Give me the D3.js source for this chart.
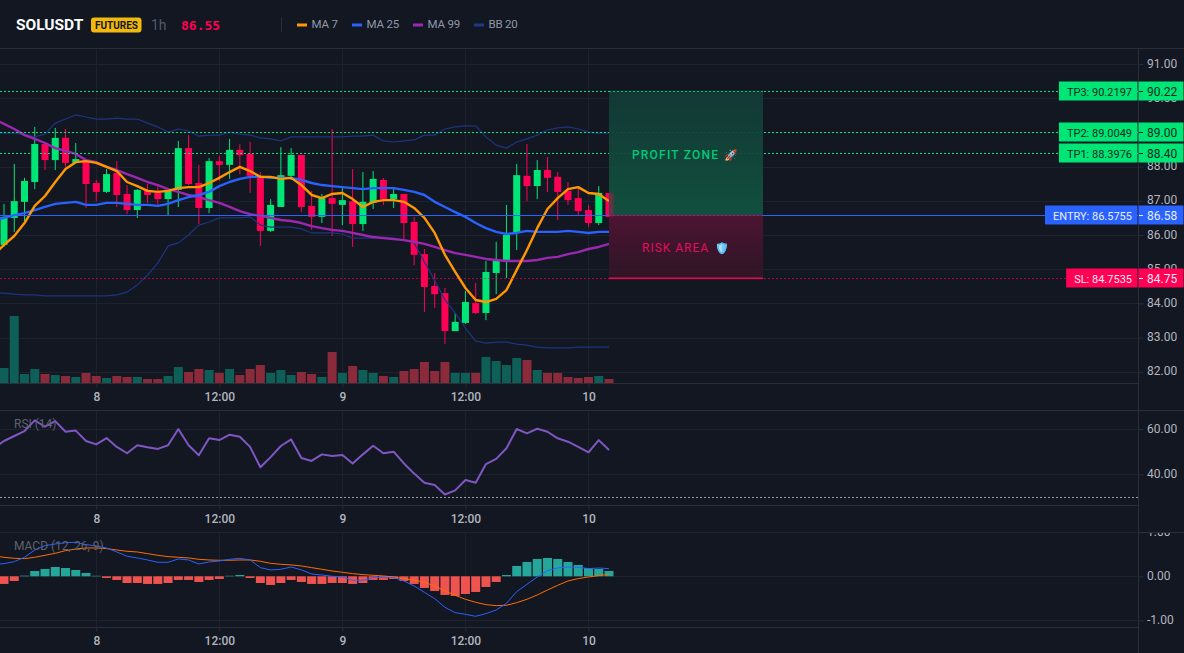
<!DOCTYPE html>
<html>
<head>
<meta charset="utf-8">
<script src="https://cdn.jsdelivr.net/npm/d3@7/dist/d3.min.js"></script>
<style>
	html, body { margin: 0; padding: 0; background: #131722; overflow: hidden; }
	svg { display: block; }
	text { font-family: Roboto, "Noto Sans", sans-serif; }
	.domain { display: none; }
</style>
</head>
<body>
<div id="chart-area"></div>
<script>
// Candles, hourly, one entry per bar
const opens = [85.71,86.50,86.97,87.55,88.66,88.19,88.84,88.11,88.19,87.52,87.26,87.81,87.20,86.73,87.32,87.23,87.05,87.32,88.54,87.52,86.79,88.16,88.05,88.49,88.37,87.73,86.12,86.82,87.73,88.34,86.85,86.53,87.08,86.88,86.99,86.32,86.94,87.61,87.05,87.20,86.38,85.44,84.51,84.30,83.19,83.43,84.01,83.72,84.89,85.27,86.06,87.73,87.43,87.90,87.70,87.29,87.08,86.73,86.35,87.23]
const highs = [86.91,88.08,87.67,89.16,88.66,89.13,89.10,88.69,88.22,87.61,87.93,88.16,87.46,87.34,87.49,87.43,87.32,88.75,88.92,88.05,88.25,88.31,88.81,88.66,88.72,87.84,87.05,88.57,88.54,88.34,87.29,87.20,89.10,87.37,87.93,87.84,87.87,87.67,87.40,87.20,86.53,85.59,84.89,84.45,83.72,84.36,84.60,85.24,85.80,86.88,88.08,88.66,88.19,88.28,87.84,87.55,87.40,86.88,87.43,87.23]
const lows = [85.65,86.09,86.41,87.34,87.90,87.90,87.99,88.11,86.79,86.99,87.23,86.82,86.61,86.50,86.94,86.88,86.58,86.82,87.46,86.32,86.64,87.58,87.64,87.78,87.23,85.68,86.09,86.82,87.61,86.67,86.15,86.35,85.97,86.29,85.65,86.12,86.76,86.88,86.79,85.85,85.12,83.75,83.87,82.81,83.19,83.40,83.69,83.51,84.27,84.74,85.56,86.99,87.05,87.26,86.44,86.88,86.58,86.23,86.29,86.53]
const closes = [86.53,86.99,87.58,88.66,88.19,88.84,88.11,88.22,87.49,87.26,87.78,87.17,86.73,87.32,87.17,87.05,87.32,88.54,87.49,86.79,88.16,88.05,88.49,88.34,87.73,86.12,86.88,87.75,88.34,86.82,86.53,87.08,86.91,87.02,86.32,86.97,87.64,87.05,87.20,86.35,85.42,84.48,84.27,83.19,83.46,84.04,83.72,84.92,85.24,86.00,87.75,87.43,87.90,87.67,87.26,87.02,86.70,86.35,87.23,86.53]
const volumes = [150,670,90,140,90,80,70,60,100,70,50,70,60,60,40,40,70,160,110,140,130,100,140,80,140,180,100,130,80,110,90,60,310,100,170,130,100,70,60,120,140,210,120,210,100,100,100,260,220,180,250,230,130,100,100,60,50,60,70,40]

// Indicator lines start one hour before the first candle
const ma7 = [85.42,85.71,85.97,86.35,86.85,87.14,87.55,87.93,88.13,88.16,88.11,87.99,87.87,87.55,87.43,87.29,87.26,87.29,87.37,87.40,87.40,87.52,87.67,87.84,87.99,87.87,87.70,87.70,87.64,87.67,87.46,87.17,87.08,87.20,87.23,87.05,86.82,86.97,87.02,87.02,86.97,86.79,86.50,86.06,85.42,84.92,84.45,84.10,84.04,84.13,84.39,84.98,85.56,86.20,86.76,87.08,87.34,87.40,87.23,87.20,86.99]
const ma25 = [86.41,86.50,86.58,86.64,86.73,86.82,86.91,86.94,86.97,86.88,86.88,86.94,86.94,86.91,86.88,86.88,86.85,86.91,87.02,87.11,87.17,87.26,87.43,87.55,87.64,87.70,87.70,87.67,87.67,87.67,87.61,87.52,87.46,87.43,87.40,87.37,87.34,87.37,87.37,87.37,87.32,87.26,87.17,86.97,86.82,86.67,86.53,86.35,86.20,86.09,86.03,86.06,86.12,86.09,86.09,86.09,86.12,86.09,86.06,86.09,86.09]
const ma99 = [89.39,89.25,89.10,88.92,88.81,88.69,88.54,88.46,88.37,88.19,88.13,87.99,87.90,87.78,87.67,87.55,87.46,87.34,87.26,87.17,87.11,87.02,86.94,86.82,86.70,86.61,86.56,86.50,86.44,86.41,86.35,86.26,86.20,86.15,86.12,86.06,86.00,85.94,85.91,85.88,85.85,85.80,85.74,85.65,85.56,85.47,85.42,85.36,85.30,85.27,85.24,85.24,85.24,85.27,85.33,85.36,85.44,85.50,85.59,85.65,85.74]
const bbUpper = [88.98,88.98,88.98,88.95,88.87,88.95,89.27,89.39,89.51,89.45,89.39,89.39,89.42,89.39,89.39,89.27,89.16,89.01,89.10,89.04,88.89,88.92,88.92,89.01,88.95,88.92,88.84,88.81,88.75,88.87,88.87,88.87,88.87,88.87,88.87,88.89,88.89,88.92,88.75,88.72,88.75,88.78,88.92,88.92,89.10,89.16,89.19,89.19,88.87,88.63,88.54,88.72,88.81,88.92,89.07,89.13,89.16,89.10,89.01,88.98,88.98]
const bbLower = [84.30,84.30,84.27,84.25,84.25,84.22,84.22,84.22,84.22,84.22,84.22,84.22,84.25,84.33,84.54,84.83,85.18,85.68,85.77,86.00,86.29,86.38,86.50,86.50,86.50,86.53,86.29,86.23,86.23,86.23,86.18,86.06,86.06,86.06,86.03,85.91,85.91,85.91,85.94,85.91,85.85,85.77,85.21,84.68,84.10,83.72,83.28,82.90,82.84,82.87,82.87,82.81,82.78,82.72,82.70,82.70,82.70,82.72,82.72,82.72,82.72]
const rsi = [51.5,54.7,56.9,59.1,63.8,61.0,63.5,58.8,59.3,54.7,53.2,56.0,52.1,49.3,52.8,51.9,51.2,52.8,60.0,52.8,48.4,55.9,55.1,57.5,56.6,52.1,43.1,47.6,52.5,55.4,47.2,45.9,48.8,48.1,48.5,44.8,48.8,52.6,49.3,50.0,44.8,40.3,36.3,35.3,31.1,32.9,37.5,36.3,44.5,46.8,51.5,60.0,58.1,60.1,58.8,55.9,54.4,52.1,49.7,55.1,50.7]
const macdLine = [.273,.288,.333,.432,.598,.697,.735,.765,.773,.720,.689,.644,.553,.455,.417,.371,.318,.318,.394,.371,.280,.326,.348,.386,.409,.371,.197,.144,.159,.212,.144,.053,.030,0,-.015,-.091,-.091,-.03,-.03,-.03,-.106,-.220,-.364,-.508,-.705,-.826,-.864,-.909,-.848,-.765,-.614,-.348,-.182,-.015,.129,.189,.212,.205,.174,.189,.174]
const macdSignal = [.462,.432,.409,.402,.432,.477,.523,.583,.621,.644,.644,.629,.598,.568,.553,.515,.477,.447,.432,.417,.386,.371,.364,.364,.371,.371,.341,.295,.273,.258,.235,.197,.159,.121,.091,.061,.038,.023,.008,-.015,-.053,-.083,-.136,-.220,-.333,-.432,-.523,-.591,-.644,-.667,-.659,-.598,-.523,-.424,-.311,-.205,-.106,-.053,-.015,.015,.045]
const macdHist = [-.174,-.106,.015,.121,.167,.212,.189,.144,.076,.012,-.038,-.083,-.152,-.152,-.174,-.174,-.152,-.083,-.083,-.129,-.083,-.061,.012,.03,-.038,-.152,-.197,-.152,-.083,-.129,-.174,-.174,-.152,-.152,-.174,-.152,-.083,-.083,-.061,-.106,-.174,-.265,-.333,-.424,-.447,-.402,-.356,-.242,-.129,.03,.235,.326,.394,.417,.394,.326,.258,.189,.167,.121]

// Axis ticks
const timeTicks = [9, 21, 33, 45, 57]
const timeLabels = ["8", "12:00", "9", "12:00", "10"]
const priceTicks = [91, 90, 89, 88, 87, 86, 85, 84, 83, 82]
const rsiTicks = [60, 40]
const macdTicks = [1, 0, -1]

// Trade levels
const levelNames = ["TP3", "TP2", "TP1", "ENTRY", "SL"]
const levelValues = [90.2197, 89.0049, 88.3976, 86.5755, 84.7535]
const levelColors = ["#00e676", "#00e676", "#00e676", "#2962ff", "#ff0055"]
const levelTextColors = ["#0b2a22", "#0b2a22", "#0b2a22", "#e8eefc", "#ffe9f0"]

// Legend
const legendNames = ["MA 7", "MA 25", "MA 99", "BB 20"]
const legendColors = ["#ff9800", "#2962ff", "#9c27b0", "#1e3a8a"]

const WIDTH = 1184
const HEIGHT = 653
const AXIS_X = 1138
const GRID = "#1e222d"
const BORDER = "#2a2e39"
const UP = "#00e676"
const DOWN = "#ff0055"

const svg = d3.select("#chart-area").append("svg")
	.attr("width", WIDTH)
	.attr("height", HEIGHT)

const defs = svg.append("defs")

// Panes
const x = d3.scaleLinear().domain([0, 59]).range([4, 609])
const yPrice = d3.scaleLinear().domain([82, 91]).range([371.8, 64])
const yVol = d3.scaleLinear().domain([0, 670]).range([383, 316])
const yRsi = d3.scaleLinear().domain([40, 60]).range([474.3, 429])
const yMacd = d3.scaleLinear().domain([-1, 0]).range([620.3, 576.3])

const panes = [
	{ top: 49, bottom: 383, y: yPrice, ticks: priceTicks },
	{ top: 411, bottom: 505, y: yRsi, ticks: rsiTicks },
	{ top: 533, bottom: 627, y: yMacd, ticks: macdTicks }
]

defs.append("clipPath").attr("id", "plot")
	.append("rect").attr("x", 0).attr("y", 49).attr("width", AXIS_X).attr("height", 334)
// the 1.00 MACD label gets cut by the top of its pane
defs.append("clipPath").attr("id", "axis-clip")
	.append("rect").attr("x", 0).attr("y", 533).attr("width", WIDTH).attr("height", 120)
defs.append("filter").attr("id", "blur").attr("x", "-100%").attr("width", "300%")
	.append("feGaussianBlur").attr("stdDeviation", 1.6)

// Header
svg.append("line")
	.attr("x1", 0).attr("x2", WIDTH).attr("y1", 48.5).attr("y2", 48.5)
	.attr("stroke", BORDER)

svg.append("text")
	.attr("x", 16).attr("y", 30)
	.attr("font-size", 15.5).attr("font-weight", 700).attr("fill", "#ffffff")
	.text("SOLUSDT")

svg.append("rect")
	.attr("x", 91).attr("y", 17.5).attr("width", 50.5).attr("height", 15).attr("rx", 3)
	.attr("fill", "#f0b90b")
svg.append("text")
	.attr("x", 116.5).attr("y", 28.7).attr("text-anchor", "middle")
	.attr("font-size", 10).attr("font-weight", 700).attr("fill", "#131722")
	.text("FUTURES")

svg.append("text")
	.attr("x", 151).attr("y", 30)
	.attr("font-size", 14).attr("fill", "#525a6a")
	.text("1h")

svg.append("text")
	.attr("x", 181).attr("y", 30)
	.style("font-family", "'DejaVu Sans Mono', monospace")
	.attr("font-size", 13).attr("font-weight", 700).attr("fill", DOWN)
	.text("86.55")

svg.append("line")
	.attr("x1", 281.5).attr("x2", 281.5).attr("y1", 18).attr("y2", 32)
	.attr("stroke", BORDER)

const legendX = [297, 352, 413, 474]
legendNames.forEach((name, i) => {
	svg.append("rect")
		.attr("x", legendX[i]).attr("y", 23.5).attr("width", 10).attr("height", 3)
		.attr("fill", legendColors[i])
	svg.append("text")
		.attr("x", legendX[i] + 14.5).attr("y", 28)
		.attr("font-size", 11.5).attr("letter-spacing", -0.2).attr("fill", "#8f98aa")
		.text(name)
})

// Grid, axes
panes.forEach(pane => {
	const grid = svg.append("g")
	grid.selectAll("line.h").data(pane.ticks).enter().append("line")
		.attr("x1", 0).attr("x2", AXIS_X)
		.attr("y1", d => Math.round(pane.y(d)) + 0.5).attr("y2", d => Math.round(pane.y(d)) + 0.5)
		.attr("stroke", GRID)
	grid.selectAll("line.v").data(timeTicks).enter().append("line")
		.attr("x1", d => Math.round(x(d)) + 0.5).attr("x2", d => Math.round(x(d)) + 0.5)
		.attr("y1", pane.top).attr("y2", pane.bottom)
		.attr("stroke", GRID)

	// pane bottom line + separator under the time axis
	grid.append("line")
		.attr("x1", 0).attr("x2", AXIS_X).attr("y1", pane.bottom + 0.5).attr("y2", pane.bottom + 0.5)
		.attr("stroke", BORDER)
	if (pane.bottom < 600) {
		grid.append("line")
			.attr("x1", 0).attr("x2", WIDTH).attr("y1", pane.bottom + 27.5).attr("y2", pane.bottom + 27.5)
			.attr("stroke", BORDER)
	}

	const timeAxis = d3.axisBottom(x)
		.tickValues(timeTicks)
		.tickFormat((d, i) => timeLabels[i])
		.tickSize(4)
		.tickPadding(5)
	const tg = svg.append("g")
		.attr("class", "x axis")
		.attr("transform", `translate(0, ${pane.bottom + 0.5})`)
		.call(timeAxis)
	tg.selectAll("line").attr("stroke", BORDER)
	tg.selectAll("text").attr("fill", "#b2b5be").attr("font-size", 12).attr("font-weight", 500)
		.style("font-family", "Roboto, sans-serif")

	const priceAxis = d3.axisRight(pane.y)
		.tickValues(pane.ticks)
		.tickFormat(d => d.toFixed(2))
		.tickSize(5)
		.tickPadding(3.5)
	const pg = svg.append("g")
		.attr("class", "y axis")
		.attr("clip-path", pane.bottom > 600 ? "url(#axis-clip)" : null)
		.append("g")
		.attr("transform", `translate(${AXIS_X + 0.5}, 0)`)
		.call(priceAxis)
	pg.selectAll("line").attr("stroke", BORDER)
	pg.selectAll("text").attr("fill", "#b2b5be").attr("font-size", 12).attr("dy", "0.26em")
		.style("font-family", "Roboto, sans-serif")
})

svg.append("line")
	.attr("x1", AXIS_X + 0.5).attr("x2", AXIS_X + 0.5).attr("y1", 49).attr("y2", HEIGHT)
	.attr("stroke", BORDER)

// Volume
const main = svg.append("g").attr("clip-path", "url(#plot)")
main.selectAll("rect.vol").data(volumes).enter().append("rect")
	.attr("class", "vol")
	.attr("x", (d, i) => x(i) - 4.5)
	.attr("width", 9)
	.attr("y", d => yVol(d))
	.attr("height", d => yVol(0) - yVol(d))
	.attr("fill", (d, i) => closes[i] >= opens[i] ? "#0e5f57" : "#8b2a3a")

// Candles
const candles = main.selectAll("g.candle").data(opens).enter().append("g")
	.attr("class", "candle")
	.attr("fill", (d, i) => closes[i] >= opens[i] ? UP : DOWN)
	.attr("stroke", (d, i) => closes[i] >= opens[i] ? UP : DOWN)

candles.append("line")
	.attr("x1", (d, i) => x(i)).attr("x2", (d, i) => x(i))
	.attr("y1", (d, i) => yPrice(highs[i])).attr("y2", (d, i) => yPrice(lows[i]))
	.attr("stroke-width", 1)

candles.append("rect")
	.attr("stroke", "none")
	.attr("x", (d, i) => x(i) - 3.5)
	.attr("width", 7)
	.attr("y", (d, i) => yPrice(Math.max(opens[i], closes[i])))
	.attr("height", (d, i) => Math.abs(yPrice(opens[i]) - yPrice(closes[i])))

// Indicator lines
const lineOn = (yScale) => d3.line().x((d, i) => x(i - 1)).y(d => yScale(d))

const drawLine = (parent, values, yScale, color, width) => {
	parent.append("path")
		.attr("d", lineOn(yScale)(values))
		.attr("fill", "none")
		.attr("stroke", color)
		.attr("stroke-width", width)
		.attr("stroke-linejoin", "round")
}

drawLine(main, bbUpper, yPrice, "#1c3580", 1.2)
drawLine(main, bbLower, yPrice, "#1c3580", 1.2)
drawLine(main, ma99, yPrice, "#9c27b0", 2.4)
drawLine(main, ma25, yPrice, "#2962ff", 2.4)
drawLine(main, ma7, yPrice, "#ff9800", 2.4)

// Trade level lines
levelValues.forEach((value, i) => {
	svg.append("line")
		.attr("x1", 0).attr("x2", AXIS_X)
		.attr("y1", Math.round(yPrice(value)) + 0.5).attr("y2", Math.round(yPrice(value)) + 0.5)
		.attr("stroke", levelColors[i])
		.attr("stroke-width", 1)
		.attr("stroke-opacity", levelNames[i] === "SL" ? 0.6 : 1)
		.attr("stroke-dasharray", levelNames[i] === "ENTRY" ? null : "2,2")
})

// Profit / risk boxes
const gradProfit = defs.append("linearGradient").attr("id", "profit").attr("x1", 0).attr("x2", 0).attr("y1", 0).attr("y2", 1)
gradProfit.append("stop").attr("offset", 0).attr("stop-color", "#123a36")
gradProfit.append("stop").attr("offset", 1).attr("stop-color", "#115440")
const gradRisk = defs.append("linearGradient").attr("id", "risk").attr("x1", 0).attr("x2", 0).attr("y1", 0).attr("y2", 1)
gradRisk.append("stop").attr("offset", 0).attr("stop-color", "#521433")
gradRisk.append("stop").attr("offset", 1).attr("stop-color", "#301526")

const BOX_LEFT = 609
const BOX_RIGHT = 763
const tp3 = yPrice(levelValues[0])
const entry = yPrice(levelValues[3])
const sl = yPrice(levelValues[4])

svg.append("rect")
	.attr("x", BOX_LEFT).attr("width", BOX_RIGHT - BOX_LEFT)
	.attr("y", tp3).attr("height", entry - tp3)
	.attr("fill", "url(#profit)").attr("opacity", 0.93)
svg.append("rect")
	.attr("x", BOX_LEFT).attr("width", BOX_RIGHT - BOX_LEFT)
	.attr("y", entry).attr("height", sl - entry)
	.attr("fill", "url(#risk)").attr("opacity", 0.93)

// last candle smears through the frosted box
svg.append("rect")
	.attr("x", BOX_LEFT + 1).attr("width", 3)
	.attr("y", yPrice(opens[59])).attr("height", yPrice(closes[59]) - yPrice(opens[59]))
	.attr("fill", DOWN).attr("opacity", 0.45).attr("filter", "url(#blur)")

svg.append("line")
	.attr("x1", BOX_LEFT).attr("x2", BOX_RIGHT).attr("y1", Math.round(tp3) + 0.5).attr("y2", Math.round(tp3) + 0.5)
	.attr("stroke", UP).attr("stroke-opacity", 0.8).attr("stroke-dasharray", "2,2")
svg.append("line")
	.attr("x1", BOX_LEFT).attr("x2", BOX_RIGHT).attr("y1", Math.round(entry) + 0.5).attr("y2", Math.round(entry) + 0.5)
	.attr("stroke", DOWN).attr("stroke-opacity", 0.7).attr("stroke-dasharray", "2,2")
svg.append("line")
	.attr("x1", BOX_LEFT).attr("x2", BOX_RIGHT).attr("y1", sl + 0.5).attr("y2", sl + 0.5)
	.attr("stroke", DOWN).attr("stroke-width", 1.5)

svg.append("text")
	.attr("x", 632).attr("y", 159)
	.attr("font-size", 12).attr("font-weight", 500).attr("letter-spacing", 1.2).attr("fill", "#00c878")
	.text("PROFIT ZONE")
svg.append("text")
	.attr("x", 724).attr("y", 159)
	.attr("font-size", 11)
	.text("🚀")
svg.append("text")
	.attr("x", 642).attr("y", 252)
	.attr("font-size", 12).attr("letter-spacing", 1).attr("fill", "#e0105a")
	.text("RISK AREA")
svg.append("text")
	.attr("x", 714.5).attr("y", 252)
	.attr("font-size", 11)
	.style("filter", "sepia(1) saturate(8) hue-rotate(170deg) brightness(0.95)")
	.text("🛡️")

// RSI
svg.append("line")
	.attr("x1", 0).attr("x2", AXIS_X).attr("y1", 497.5).attr("y2", 497.5)
	.attr("stroke", "#9aa0ab").attr("stroke-dasharray", "2,2")
drawLine(svg, rsi, yRsi, "#7e57c2", 2)
svg.append("text")
	.attr("x", 14).attr("y", 428).attr("font-size", 12).attr("fill", "#5d626e")
	.text("RSI (14)")

// MACD
svg.selectAll("rect.hist").data(macdHist).enter().append("rect")
	.attr("class", "hist")
	.attr("x", (d, i) => x(i) - 4.5)
	.attr("width", 9)
	.attr("y", d => Math.min(yMacd(d), yMacd(0)))
	.attr("height", d => Math.abs(yMacd(d) - yMacd(0)))
	.attr("fill", d => d >= 0 ? "#26a69a" : "#ef5350")
drawLine(svg, macdSignal, yMacd, "#ff6d00", 1)
drawLine(svg, macdLine, yMacd, "#2962ff", 1)
svg.append("text")
	.attr("x", 14).attr("y", 550).attr("font-size", 12).attr("fill", "#5d626e")
	.text("MACD (12, 26, 9)")

// Price tags on the right axis
levelValues.forEach((value, i) => {
	const cy = Math.round(yPrice(value))
	const tag = svg.append("g")
	const label = tag.append("text")
		.attr("x", 1132).attr("y", cy + 4.5).attr("text-anchor", "end")
		.attr("font-size", 11).attr("fill", levelTextColors[i])
		.text(`${levelNames[i]}: ${value.toFixed(4)}`)
	const w = label.node().getComputedTextLength()
	tag.insert("rect", "text")
		.attr("x", 1132 - w - 8).attr("width", w + 13.5)
		.attr("y", cy - 9.5).attr("height", 19)
		.attr("fill", levelColors[i])
	tag.append("rect")
		.attr("x", 1138.5).attr("width", 45)
		.attr("y", cy - 9.5).attr("height", 19)
		.attr("fill", levelColors[i])
	tag.append("line")
		.attr("x1", 1139).attr("x2", 1143).attr("y1", cy + 0.5).attr("y2", cy + 0.5)
		.attr("stroke", levelTextColors[i])
	tag.append("text")
		.attr("x", 1147).attr("y", cy + 4.5)
		.attr("font-size", 12).attr("fill", levelTextColors[i])
		.text(value.toFixed(2))
})
</script>
</body>
</html>
